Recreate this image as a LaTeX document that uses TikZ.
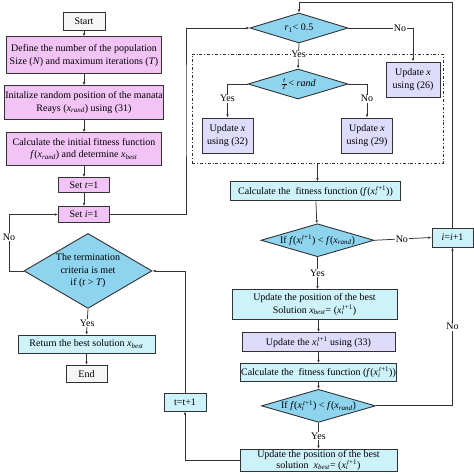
\documentclass[tikz,border=0pt]{standalone}
\usepackage{fontspec}
\setmainfont{Liberation Serif}
\usepackage{tikz}
\usetikzlibrary{positioning, shapes.geometric, arrows.meta, calc}
\definecolor{boxpink}{RGB}{242, 196, 246}
\definecolor{boxlav}{RGB}{222, 220, 250}
\definecolor{boxcyan}{RGB}{206, 242, 250}
\definecolor{diacyan}{RGB}{142, 212, 238}
\definecolor{boxgrey}{RGB}{246, 246, 246}
\definecolor{edgegrey}{RGB}{50, 50, 50}
\newcommand{\fs}{\fontsize{10}{12.5}\selectfont}
\newcommand{\xs}[1]{\textit{x}\textsubscript{\textit{#1}}}
\newcommand{\xit}{\textit{x}\rlap{\textsubscript{\textit{i}}}\textsuperscript{\,\textit{t}+1}}

\begin{document}
\begin{tikzpicture}[x=1pt, y=1pt, >={Latex[length=3.2pt, width=2.6pt]},
    base/.style={draw=edgegrey, line width=0.9pt, font=\fs, align=center, inner sep=1pt},
    pinkbox/.style={base, rectangle, fill=boxpink},
    lavbox/.style={base, rectangle, fill=boxlav},
    cyanbox/.style={base, rectangle, fill=boxcyan},
    plainbox/.style={base, rectangle, fill=boxgrey},
    decision/.style={base, diamond, fill=diacyan, inner sep=0pt},
    flow/.style={->, line width=0.75pt, draw=edgegrey},
    lbl/.style={font=\fs, fill=white, inner sep=0.6pt}]
    \useasboundingbox (0,0) rectangle (474,-474);

    % left column
    \node [plainbox, minimum width=42pt, minimum height=18pt] (start) at (84,-21) {Start};
    \node [pinkbox, minimum width=155pt, minimum height=37pt, below=6pt of start] (define) {Define the number of the population\\Size (\textit{N}) and maximum iterations (\textit{T})};
    \node [pinkbox, minimum width=155pt, minimum height=34pt, below=11pt of define] (init) {Initalize random position of the manata\\Reays (\xs{rand}) using (31)};
    \node [pinkbox, minimum width=155pt, minimum height=33pt, below=12pt of init] (calc) {Calculate the initial fitness function\\\textit{f}(\xs{rand}) and determine \xs{best}};
    \node [pinkbox, minimum width=51pt, minimum height=15pt, below=11pt of calc] (sett) {Set \textit{t}=1};
    \node [pinkbox, minimum width=51pt, minimum height=16pt, below=13pt of sett] (seti) {Set \textit{i}=1};
    \node [decision, aspect=1.7, minimum width=128pt, minimum height=75pt, below=10pt of seti, xshift=4pt] (term) {The termination\\criteria is met\\if (\textit{t} {\textgreater} \textit{T})};
    \node [cyanbox, minimum width=137pt, minimum height=18pt, below=26pt of term, xshift=-1.5pt] (ret) {Return the best solution \xs{best}};
    \node [plainbox, minimum width=41pt, minimum height=17pt, below=11pt of ret] (end) {End};
    \node [cyanbox, minimum width=42pt, minimum height=18pt] (tt) at (185,-402) {t=t+1};

    % right column
    \node [decision, aspect=3.2, minimum width=98pt, minimum height=30pt] (r1) at (299,-28) {\textit{r}\textsubscript{1}{\textless} 0.5};
    \node [draw=edgegrey, line width=0.8pt, dash dot, minimum width=251pt, minimum height=109pt] (grp) at (317.5,-108.5) {};
    \node [decision, aspect=3.3, minimum width=100pt, minimum height=30pt] (frac) at (298,-84) {$\frac{t}{T}${\textless} \textit{rand}};
    \node [lavbox, minimum width=54pt, minimum height=35pt] (u26) at (413,-79.5) {Update \textit{x}\\using (26)};
    \node [lavbox, minimum width=51pt, minimum height=35pt] (u32) at (227.5,-135.5) {Update \textit{x}\\using (32)};
    \node [lavbox, minimum width=51pt, minimum height=35pt] (u29) at (367,-135.5) {Update \textit{x}\\using (29)};
    \node [cyanbox, minimum width=170pt, minimum height=19pt, below=18pt of grp, xshift=-2pt] (calc2) {Calculate the\ \ fitness function (\textit{f}(\xit))};
    \node [decision, aspect=3.4, minimum width=113pt, minimum height=33pt, below=22pt of calc2, xshift=2pt] (if1) {If \textit{f}(\xit) {\textless} \textit{f}(\xs{rand})};
    \node [cyanbox, minimum width=41pt, minimum height=19pt] (inc) at (452.5,-237.5) {\textit{i}=\textit{i}+1};
    \node [cyanbox, minimum width=165pt, minimum height=30pt, below=32pt of if1, xshift=-3pt] (best1) {Update the position of the best\\Solution \xs{best}= (\xit)};
    \node [lavbox, minimum width=153pt, minimum height=19pt, below=12pt of best1, xshift=4pt] (u33) {Update the \xit{} using (33)};
    \node [cyanbox, minimum width=153pt, minimum height=18pt, below=11pt of u33] (calc3) {Calculate the\ \ fitness function (\textit{f}(\xit))};
    \node [decision, aspect=3.4, minimum width=114pt, minimum height=33pt, below=7pt of calc3] (if2) {If \textit{f}(\xit) {\textless} \textit{f}(\xs{rand})};
    \node [cyanbox, minimum width=157pt, minimum height=22pt, inner sep=0.5pt, font=\fontsize{10}{10.6}\selectfont, below=26pt of if2] (best2) {Update the position of the best\\solution\ \ \xs{best}= (\xit)};

    % left connectors
    \draw [flow] (start) -- (define);
    \draw [flow] (define) -- (init);
    \draw [flow] (init) -- (calc);
    \draw [flow] (calc) -- (sett);
    \draw [flow] (sett) -- (seti);
    \draw [flow] (seti.east) -| (186,-100) |- (r1.west);
    \draw [flow] (term.west) -- (9,0 |- term.west) |- node [lbl, pos=0.3] {No} (seti.west);
    \draw [flow] (term.south) -- node [lbl, pos=0.55] {Yes} (ret.north);
    \draw [flow] (ret) -- (end);
    \draw [flow] (best2.west) -| (tt.south);
    \draw [flow] (tt.north) |- (term.east);

    % right connectors
    \draw [flow] (inc.north) |- (299,-2) -- (r1.north);
    \draw [flow] (r1.east) -| node [lbl, pos=0.4] {No} (u26.north);
    \draw [flow] (r1.south) -- node [lbl, pos=0.45] {Yes} (frac.north);
    \draw [flow] (frac.west) -| node [lbl, pos=0.72] {Yes} (u32.north);
    \draw [flow] (frac.east) -| node [lbl, pos=0.72] {No} (u29.north);
    \draw [flow] (grp.south) -- (grp.south |- calc2.north);
    \draw [flow] (calc2) -- (if1);
    \draw [flow] (if1.east) -- node [lbl, pos=0.48] {No} (inc.west);
    \draw [flow] (if1.south) -- node [lbl] {Yes} (if1.south |- best1.north);
    \draw [flow] (best1.south -| u33.north) -- (u33.north);
    \draw [flow] (u33) -- (calc3);
    \draw [flow] (calc3) -- (if2);
    \draw [flow] (if2.east) -| node [lbl, pos=0.75] {No} (inc.south);
    \draw [flow] (if2.south) -- node [lbl] {Yes} (best2.north);
\end{tikzpicture}
\end{document}
